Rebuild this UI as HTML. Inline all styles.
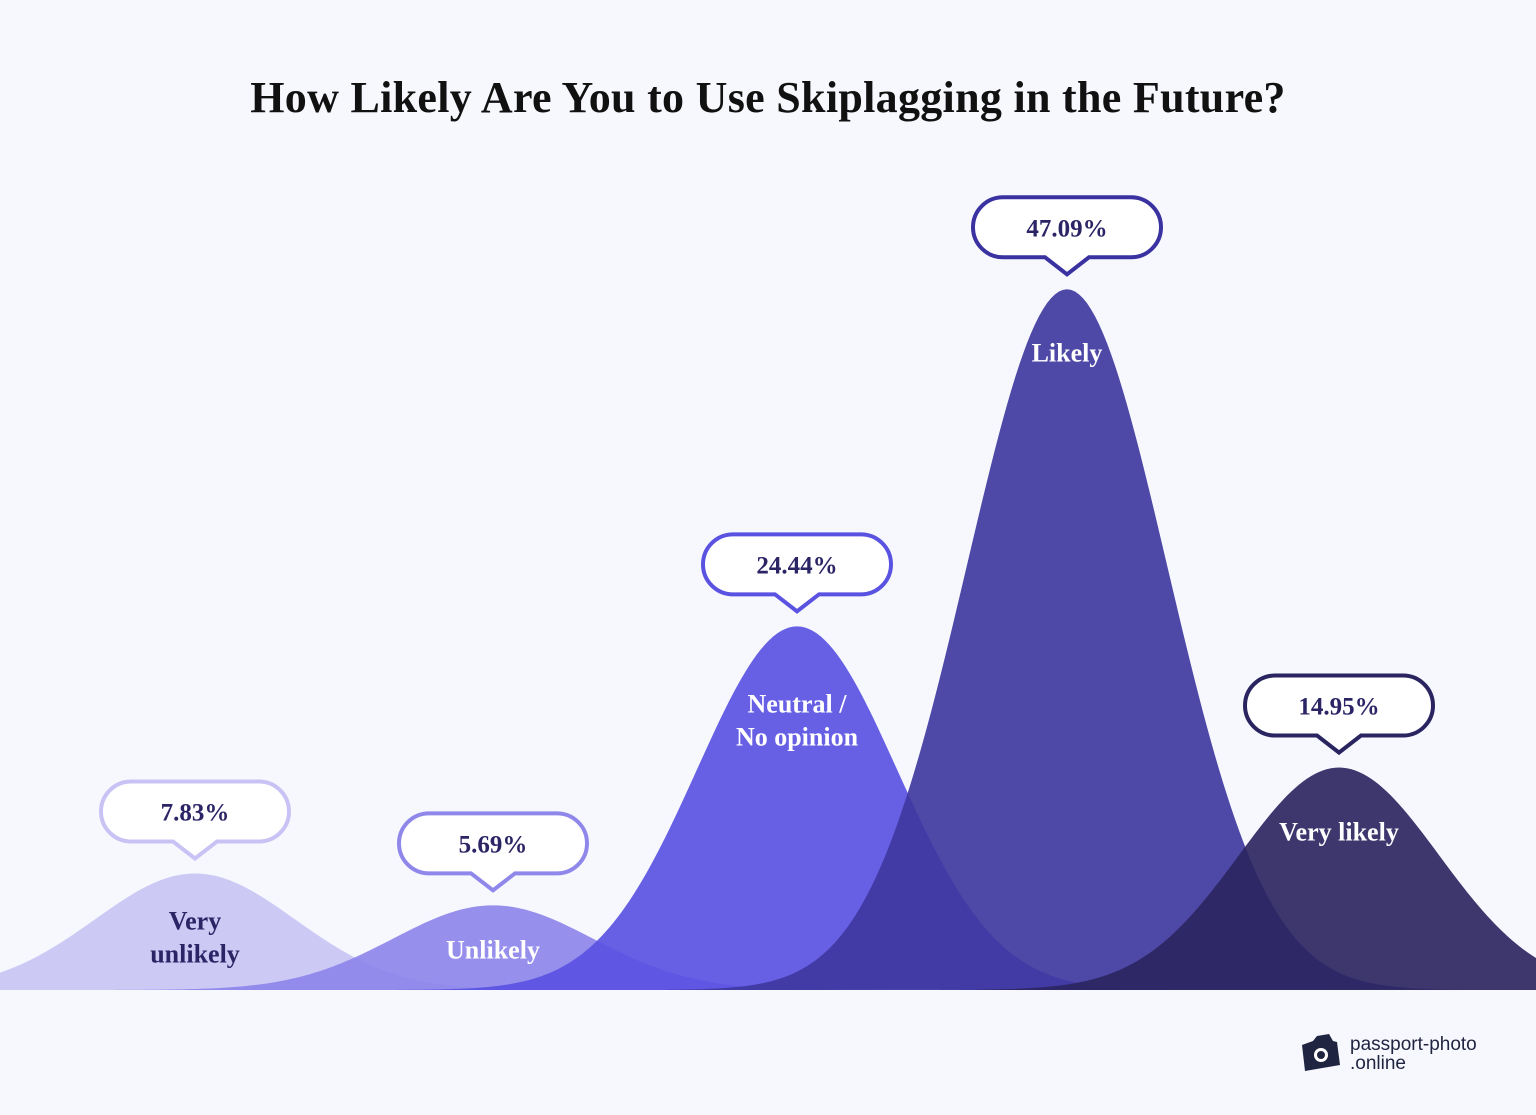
<!DOCTYPE html>
<html><head><meta charset="utf-8"><style>
html,body{margin:0;padding:0;background:#f7f8fe;width:1536px;height:1115px;overflow:hidden;}
body{position:relative;font-family:"Liberation Serif",serif;}
h1{position:absolute;top:72px;left:0;width:1536px;text-align:center;margin:0;font-size:44px;font-weight:bold;color:#111;letter-spacing:0.3px;}
</style></head><body>
<h1>How Likely Are You to Use Skiplagging in the Future?</h1>
<svg id="chart" width="1536" height="1115" style="position:absolute;left:0;top:0;display:block"></svg>
<div style="position:absolute;left:1300px;top:1033px;width:200px;height:45px;">
<svg width="42" height="40" style="position:absolute;left:0;top:0"><path d="M2 12 L13 8 L17 3 L29 1 L33 8 L37 9 L40 32 L5 38 Z" fill="#1f2440"/><circle cx="21" cy="22" r="7" fill="#fff"/><circle cx="21" cy="22" r="4" fill="#1f2440"/></svg>
<div style="position:absolute;left:50px;top:2px;font-family:'Liberation Sans',sans-serif;font-size:19px;line-height:19px;color:#1f2440">passport-photo<br>.online</div>
</div>
<script>
const categories=["Very\nunlikely","Unlikely","Neutral /\nNo opinion","Likely","Very likely"];
const values=[7.83,5.69,24.44,47.09,14.95];
const labels=["7.83%","5.69%","24.44%","47.09%","14.95%"];
const fills=["#cdc9f5","#8d86ea","#5a52e2","#3f389f","#2c2662"];
const strokes=["#c8c3f4","#8f88ea","#5a52e0","#3a32a0","#2a2560"];
const textCols=["#2b2566","#ffffff","#ffffff","#ffffff","#ffffff"];
const centersX=[195,493,797,1067,1339];
const labelOffsets=[56,53,86,72,73];
const baseY=990, scale=14.88, sigma=100;
const yPos=v=>baseY-v*scale;
const svg=document.getElementById('chart');
const NS="http://www.w3.org/2000/svg";
values.forEach((v,i)=>{
  const cx=centersX[i], h=v*scale;
  let d=`M ${cx-400} ${baseY}`;
  for(let x=cx-400;x<=cx+400;x+=4){d+=` L ${x} ${baseY-h*Math.exp(-((x-cx)**2)/(2*sigma*sigma))}`;}
  d+=" Z";
  const p=document.createElementNS(NS,'path');
  p.setAttribute('d',d);p.setAttribute('fill',fills[i]);
  if(i>0)p.setAttribute('opacity','0.92');
  
  
  svg.appendChild(p);
});
const cover=document.createElementNS(NS,'rect');
cover.setAttribute('x',0);cover.setAttribute('y',baseY);cover.setAttribute('width',1536);cover.setAttribute('height',125);cover.setAttribute('fill','#f7f8fe');


svg.appendChild(cover);
values.forEach((v,i)=>{
  const cx=centersX[i], py=yPos(v);
  const g=document.createElementNS(NS,'g');
  
  
  const bb=py-32, bt=bb-60;
  const d=`M ${cx-64} ${bt} H ${cx+64} A 30 30 0 0 1 ${cx+64} ${bb} H ${cx+22} L ${cx} ${py-15} L ${cx-22} ${bb} H ${cx-64} A 30 30 0 0 1 ${cx-64} ${bt} Z`;
  const p=document.createElementNS(NS,'path');
  p.setAttribute('d',d);p.setAttribute('fill','#fff');p.setAttribute('stroke',strokes[i]);p.setAttribute('stroke-width','4');
  g.appendChild(p);
  const t=document.createElementNS(NS,'text');
  t.setAttribute('x',cx);t.setAttribute('y',bt+39);t.setAttribute('text-anchor','middle');
  t.setAttribute('font-family','Liberation Serif, serif');t.setAttribute('font-weight','bold');t.setAttribute('font-size','25');t.setAttribute('fill','#2b2566');
  t.textContent=labels[i];
  g.appendChild(t);
  svg.appendChild(g);
  const lines=categories[i].split("\n");
  const tl=document.createElementNS(NS,'text');
  
  
  tl.setAttribute('text-anchor','middle');
  tl.setAttribute('font-family','Liberation Serif, serif');tl.setAttribute('font-weight','bold');tl.setAttribute('font-size','26');tl.setAttribute('fill',textCols[i]);
  const startY=py+labelOffsets[i];
  lines.forEach((ln,k)=>{const s=document.createElementNS(NS,'tspan');s.setAttribute('x',cx);s.setAttribute('y',startY+k*33);s.textContent=ln;tl.appendChild(s);});
  svg.appendChild(tl);
});
</script>
</body></html>
